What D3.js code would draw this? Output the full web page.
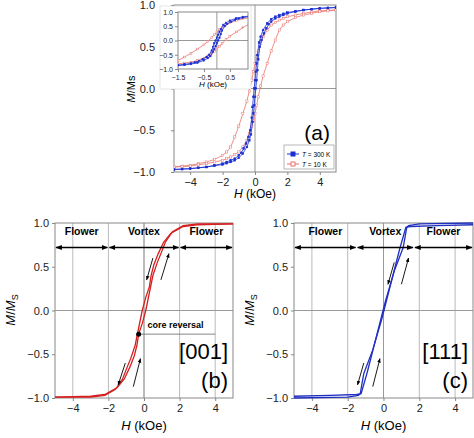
<!DOCTYPE html><html><head><meta charset="utf-8"><script src="https://cdn.jsdelivr.net/npm/d3@7"></script>
<style>body{margin:0;background:#fff}text{font-family:Arial,"Liberation Sans",sans-serif}</style></head><body>
<svg id="s" width="474" height="438"></svg>
<script>
const xTicks=[-4,-2,0,2,4], yTicks=[-1.0,-0.5,0.0,0.5,1.0];
const insetXTicks=[-1.5,-0.5,0.5], insetYTicks=[-1.0,-0.5,0.0,0.5,1.0];
const blue300Desc=[[5,0.97],[4.5,0.965],[4,0.96],[3.5,0.95],[3,0.94],[2.5,0.925],[2,0.91],[1.75,0.895],[1.5,0.88],[1.25,0.86],[1,0.83],[0.75,0.78],[0.5,0.7],[0.35,0.62],[0.25,0.55],[0.15,0.4],[0.1,0.3],[0.05,0.2],[0,0.1],[-0.05,0],[-0.1,-0.1],[-0.15,-0.22],[-0.2,-0.35],[-0.3,-0.5],[-0.4,-0.58],[-0.55,-0.66],[-0.7,-0.72],[-0.85,-0.77],[-1,-0.8],[-1.25,-0.84],[-1.5,-0.86],[-1.75,-0.88],[-2,-0.9],[-2.5,-0.92],[-3,-0.94],[-3.5,-0.95],[-4,-0.96],[-4.5,-0.965],[-5,-0.97]];
const red10Desc=[[5,0.94],[4.5,0.935],[4,0.93],[3.5,0.915],[3,0.9],[2.5,0.88],[2,0.86],[1.75,0.84],[1.5,0.82],[1.25,0.79],[1,0.76],[0.75,0.7],[0.5,0.62],[0.35,0.54],[0.2,0.45],[0.1,0.38],[0,0.3],[-0.1,0.2],[-0.2,0.1],[-0.35,-0.03],[-0.5,-0.15],[-0.75,-0.3],[-1,-0.45],[-1.25,-0.58],[-1.5,-0.7],[-1.75,-0.76],[-2,-0.8],[-2.5,-0.85],[-3,-0.88],[-3.5,-0.9],[-4,-0.92],[-4.5,-0.93],[-5,-0.94]];
const b001Desc=[[5,0.99],[3,0.99],[2.2,0.97],[1.6,0.9],[1.2,0.78],[0.95,0.65],[0.75,0.55],[0.5,0.4],[0.3,0.2],[0.1,0.0],[-0.1,-0.15],[-0.3,-0.27],[-0.4,-0.4],[-0.55,-0.52],[-0.8,-0.65],[-1.1,-0.78],[-1.5,-0.88],[-2.2,-0.96],[-3,-0.98],[-5,-0.99]];
const c111Desc=[[5,1.0],[2,0.99],[1.4,0.97],[1.3,0.95],[1.1,0.72],[0.6,0.45],[0.1,0.1],[-0.4,-0.3],[-0.9,-0.7],[-1.25,-0.95],[-1.5,-0.96],[-3,-0.97],[-5,-0.98]];
const mirror=a=>a.map(([h,m])=>[-h,-m]);
const regionsB=[[-5,-2,"Flower"],[-2,2,"Vortex"],[2,5,"Flower"]];
const regionsC=[[-5,-1.5,"Flower"],[-1.5,1.7,"Vortex"],[1.7,5,"Flower"]];
const svg=d3.select("#s");
svg.append("defs").append("marker").attr("id","ah").attr("viewBox","0 0 10 10").attr("refX",9).attr("refY",5).attr("markerWidth",5).attr("markerHeight",5).attr("orient","auto-start-reverse").append("path").attr("d","M0,1L10,5L0,9z").attr("fill","#000");

function panel(L,R,T,B,xd,yd,xt,yt,fs,grid,pad){
  const x=d3.scaleLinear().domain(xd).range([L,R]), y=d3.scaleLinear().domain(yd).range([B,T]);
  const g=svg.append("g");
  if(grid) xt.forEach(t=>g.append("line").attr("x1",x(t)).attr("x2",x(t)).attr("y1",T).attr("y2",B).attr("stroke","#bbb"));
  g.append("line").attr("x1",x(0)).attr("x2",x(0)).attr("y1",T).attr("y2",B).attr("stroke","#999");
  g.append("line").attr("x1",L).attr("x2",R).attr("y1",y(0)).attr("y2",y(0)).attr("stroke","#999");
  g.append("rect").attr("x",L).attr("y",T).attr("width",R-L).attr("height",B-T).attr("fill","none").attr("stroke","#888");
  g.append("g").attr("transform",`translate(0,${B})`).call(d3.axisBottom(x).tickValues(xt).tickSize(3).tickFormat(d3.format(xt.some(v=>v%1)?".1f":"d"))).call(a=>{a.select(".domain").remove();a.selectAll("text").attr("font-size",fs).attr("fill","#222");a.selectAll("line").attr("stroke","#888");});
  g.append("g").attr("transform",`translate(${L},0)`).call(d3.axisLeft(y).tickValues(yt).tickSize(3).tickPadding(pad||3).tickFormat(d3.format(".1f"))).call(a=>{a.select(".domain").remove();a.selectAll("text").attr("font-size",fs).attr("fill","#222");a.selectAll("line").attr("stroke","#888");});
  return {x,y,g};
}
function curve(p,data,color,w,dash){
  return p.g.append("path").datum(data).attr("d",d3.line().x(d=>p.x(d[0])).y(d=>p.y(d[1]))).attr("fill","none").attr("stroke",color).attr("stroke-width",w).attr("stroke-dasharray",dash||null);
}
function marks(p,data,color,filled,s){
  p.g.selectAll(null).data(data).enter().append("rect").attr("x",d=>p.x(d[0])-s/2).attr("y",d=>p.y(d[1])-s/2).attr("width",s).attr("height",s).attr("fill",filled?color:"#fff").attr("stroke",color).attr("stroke-width",0.5);
}
function hyst(p,desc,color,w){curve(p,desc,color,w);curve(p,mirror(desc),color,w);}
function loopA(p,s){
  const cid="c"+Math.random().toString(36).slice(2);
  svg.append("clipPath").attr("id",cid).append("rect").attr("x",p.x.range()[0]).attr("y",p.y.range()[1]).attr("width",p.x.range()[1]-p.x.range()[0]).attr("height",p.y.range()[0]-p.y.range()[1]);
  const gg=p.g.append("g").attr("clip-path",`url(#${cid})`); const q={x:p.x,y:p.y,g:gg};
  [red10Desc,mirror(red10Desc)].forEach(d=>{curve(q,d,"#e8736f",0.8);marks(q,d,"#e8736f",false,s);});
  [blue300Desc,mirror(blue300Desc)].forEach(d=>{curve(q,d,"#1a2fd0",0.8);marks(q,d,"#1a2fd0",true,s*0.8);});
}
// Panel a
const pa=panel(174,336,5,172,[-5,5],[-1,1],xTicks,yTicks,11,false,16);
loopA(pa,2.2);
svg.append("text").attr("x",255).attr("y",198).attr("text-anchor","middle").attr("font-size",12).html('<tspan font-style="italic">H</tspan> (kOe)');
svg.append("text").attr("x",135).attr("y",89).attr("transform","rotate(-90,135,89)").attr("text-anchor","middle").attr("font-size",11).html('<tspan font-style="italic">M</tspan>/Ms');
svg.append("text").attr("x",330).attr("y",140).attr("text-anchor","end").attr("font-size",21).text("(a)");
const lg=svg.append("g");
lg.append("rect").attr("x",284).attr("y",145).attr("width",50).attr("height",24).attr("fill","#fff").attr("stroke","#888").attr("stroke-width",0.6);
[["#1a2fd0",true,"300 K",154],["#e8736f",false,"10 K",164]].forEach(([c,f,t,yy])=>{
  lg.append("line").attr("x1",287).attr("x2",299).attr("y1",yy).attr("y2",yy).attr("stroke",c);
  lg.append("rect").attr("x",291).attr("y",yy-2).attr("width",4).attr("height",4).attr("fill",f?c:"#fff").attr("stroke",c);
  lg.append("text").attr("x",302).attr("y",yy+2.5).attr("font-size",6.5).html(`<tspan font-style="italic">T</tspan> = ${t}`);
});
// inset
svg.append("rect").attr("x",160).attr("y",6).attr("width",91).attr("height",83).attr("fill","#fff").attr("stroke","#ccc").attr("stroke-width",0.5);
const pi=panel(178,248,12,69,[-1.5,1.2],[-1,1],insetXTicks,insetYTicks,7,false,2);
loopA(pi,1.8);
svg.append("text").attr("x",213).attr("y",87).attr("text-anchor","middle").attr("font-size",8).html('<tspan font-style="italic">H</tspan> (kOe)');

function lower(L,R,desc,color,regions,label,arrows){
  const p=panel(L,R,223,398,[-5,5],[-1,1],xTicks,yTicks,11,true);
  hyst(p,desc,color,1.3);
  regions.forEach(([a,b,t])=>{
    p.g.append("line").attr("x1",p.x(a)+1).attr("x2",p.x(b)-1).attr("y1",p.y(0.72)).attr("y2",p.y(0.72)).attr("stroke","#000").attr("stroke-width",1.3).attr("marker-start","url(#ah)").attr("marker-end","url(#ah)");
    p.g.append("text").attr("x",p.x((a+b)/2)).attr("y",p.y(0.86)).attr("text-anchor","middle").attr("font-size",10.5).attr("font-weight","bold").text(t);
  });
  arrows.forEach(([a,b])=>p.g.append("line").attr("x1",p.x(a[0])).attr("y1",p.y(a[1])).attr("x2",p.x(b[0])).attr("y2",p.y(b[1])).attr("stroke","#000").attr("stroke-width",0.9).attr("marker-end","url(#ah)"));
  p.g.append("text").attr("x",R-5).attr("y",p.y(-0.55)).attr("text-anchor","end").attr("font-size",22).text(label[0]);
  p.g.append("text").attr("x",R-5).attr("y",p.y(-0.88)).attr("text-anchor","end").attr("font-size",22).text(label[1]);
  svg.append("text").attr("x",(L+R)/2).attr("y",430).attr("text-anchor","middle").attr("font-size",13).html('<tspan font-style="italic">H</tspan> (kOe)');
  svg.append("text").attr("x",L-40).attr("y",310).attr("transform",`rotate(-90,${L-40},310)`).attr("text-anchor","middle").attr("font-size",13).html('<tspan font-style="italic">M</tspan>/<tspan font-style="italic">M</tspan><tspan font-size="9" dy="3">S</tspan>');
  return p;
}
const pb=lower(55,233,b001Desc,"#d42020",regionsB,["[001]","(b)"],[[[0.5,0.6],[0.15,0.35]],[[0.95,0.35],[1.4,0.65]],[[-1.05,-0.6],[-1.45,-0.85]],[[-0.6,-0.87],[-0.2,-0.55]]]);
pb.g.append("line").attr("x1",pb.x(-0.3)).attr("x2",pb.x(4)).attr("y1",pb.y(-0.27)).attr("y2",pb.y(-0.27)).attr("stroke","#666").attr("stroke-width",0.8);
pb.g.append("circle").attr("cx",pb.x(-0.3)).attr("cy",pb.y(-0.27)).attr("r",2.5).attr("fill","#000");
pb.g.append("text").attr("x",pb.x(0.2)).attr("y",pb.y(-0.2)).attr("font-size",9).attr("font-weight","bold").text("core reversal");
lower(294,473,c111Desc,"#2030c0",regionsC,["[111]","(c)"],[[[0.6,0.55],[0.25,0.3]],[[1.0,0.3],[1.4,0.6]],[[-1.1,-0.6],[-1.45,-0.85]],[[-0.6,-0.87],[-0.2,-0.55]]]);
</script></body></html>
